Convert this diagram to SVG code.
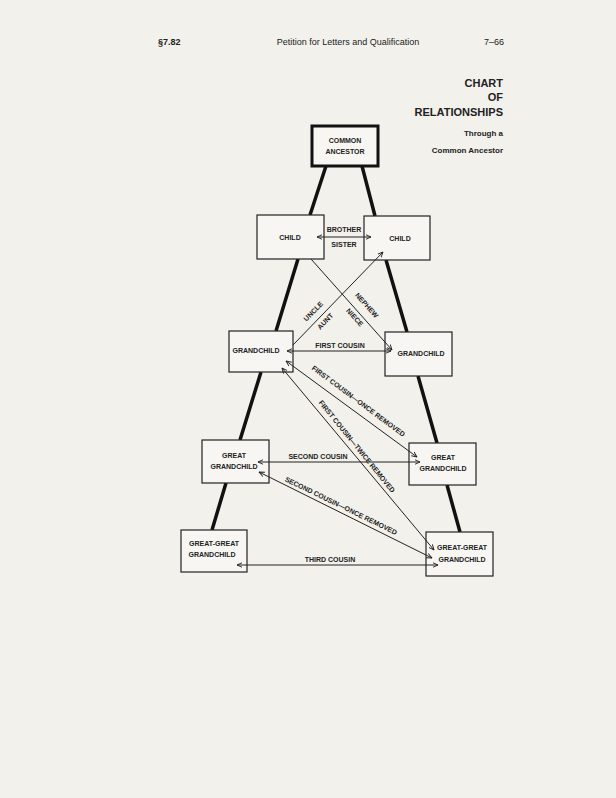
<svg xmlns="http://www.w3.org/2000/svg" width="616" height="798" viewBox="0 0 616 798">
<style>
.n{fill:#f7f6f2;stroke:#222;stroke-width:1.2}
.t{font-family:"Liberation Sans",Arial,sans-serif;font-weight:bold;font-size:7px;fill:#222;text-anchor:middle}
.leg{stroke:#111;stroke-width:3.5;fill:none}
.c{stroke:#222;stroke-width:1;fill:none;marker-start:url(#a);marker-end:url(#a)}
.s{stroke:#222;stroke-width:1;fill:none;marker-end:url(#a)}
.h{font-family:"Liberation Sans",Arial,sans-serif;font-size:9px;fill:#222}
.ti{font-family:"Liberation Sans",Arial,sans-serif;font-weight:bold;fill:#222;text-anchor:end}
</style>
<defs><marker id="a" viewBox="0 0 10 10" refX="9" refY="5" markerWidth="6" markerHeight="6" orient="auto-start-reverse" markerUnits="userSpaceOnUse"><path d="M0,1 L9,5 L0,9" fill="none" stroke="#222" stroke-width="1.5"/></marker></defs>
<rect width="616" height="798" fill="#f2f1ec"/>
<text class="h" x="158" y="45" font-weight="bold">§7.82</text>
<text class="h" x="348" y="45" text-anchor="middle">Petition for Letters and Qualification</text>
<text class="h" x="484" y="45">7–66</text>
<text class="ti" x="503" y="87" font-size="11">CHART</text>
<text class="ti" x="503" y="101" font-size="11">OF</text>
<text class="ti" x="503" y="116" font-size="11">RELATIONSHIPS</text>
<text class="ti" x="503" y="136" font-size="8">Through a</text>
<text class="ti" x="503" y="153" font-size="8">Common Ancestor</text>
<g id="legs">
<path class="leg" d="M326,166 L310,215 M298,259 L276,331 M261,372 L240,440 M226,483 L212,530"/>
<path class="leg" d="M362,166 L375,216 M386,260 L407,332 M418,376 L437,443 M447,485 L460,532"/>
</g>
<g id="ancestor"><rect x="312" y="126" width="66" height="40" fill="#f7f6f2" stroke="#111" stroke-width="3"/><text class="t" x="345" y="143">COMMON</text><text class="t" x="345" y="154">ANCESTOR</text></g>
<g id="child1"><rect class="n" x="257" y="215" width="67" height="44"/><text class="t" x="290" y="240">CHILD</text></g>
<g id="child2"><rect class="n" x="364" y="216" width="66" height="44"/><text class="t" x="400" y="241">CHILD</text></g>
<g id="gc1"><rect class="n" x="229" y="331" width="64" height="41"/><text class="t" x="256" y="353">GRANDCHILD</text></g>
<g id="gc2"><rect class="n" x="385" y="332" width="67" height="44"/><text class="t" x="421" y="356">GRANDCHILD</text></g>
<g id="ggc1"><rect class="n" x="202" y="440" width="67" height="43"/><text class="t" x="234" y="458">GREAT</text><text class="t" x="234" y="469">GRANDCHILD</text></g>
<g id="ggc2"><rect class="n" x="409" y="443" width="67" height="42"/><text class="t" x="443" y="460">GREAT</text><text class="t" x="443" y="471">GRANDCHILD</text></g>
<g id="gggc1"><rect class="n" x="181" y="530" width="66" height="42"/><text class="t" x="214" y="546">GREAT-GREAT</text><text class="t" x="212" y="557">GRANDCHILD</text></g>
<g id="gggc2"><rect class="n" x="426" y="532" width="67" height="44"/><text class="t" x="462" y="550">GREAT-GREAT</text><text class="t" x="462" y="562">GRANDCHILD</text></g>
<g id="connectors">
<line class="c" x1="317" y1="237" x2="371" y2="237"/>
<line class="s" x1="293" y1="345" x2="383" y2="252"/>
<line class="s" x1="311" y1="259" x2="392" y2="350"/>
<line class="c" x1="287" y1="351" x2="391" y2="351"/>
<line class="c" x1="286" y1="361" x2="417" y2="457"/>
<line class="c" x1="282" y1="368" x2="434" y2="550"/>
<line class="c" x1="258" y1="462" x2="420" y2="462"/>
<line class="c" x1="259" y1="472" x2="432" y2="558"/>
<line class="c" x1="237" y1="565" x2="438" y2="565"/>
<text class="t" x="344" y="232">BROTHER</text>
<text class="t" x="344" y="247">SISTER</text>
<text class="t" x="340" y="348">FIRST COUSIN</text>
<text class="t" x="318" y="459">SECOND COUSIN</text>
<text class="t" x="330" y="562">THIRD COUSIN</text>
<text class="t" transform="translate(315,313) rotate(-46)">UNCLE</text>
<text class="t" transform="translate(327,323) rotate(-46)">AUNT</text>
<text class="t" transform="translate(365,307) rotate(48)">NEPHEW</text>
<text class="t" transform="translate(353,319) rotate(48)">NIECE</text>
<text class="t" transform="translate(357,403) rotate(36.7)">FIRST COUSIN—ONCE REMOVED</text>
<text class="t" transform="translate(355,448) rotate(51)">FIRST COUSIN—TWICE REMOVED</text>
<text class="t" transform="translate(340,508) rotate(26)">SECOND COUSIN—ONCE REMOVED</text>
</g>
</svg>
